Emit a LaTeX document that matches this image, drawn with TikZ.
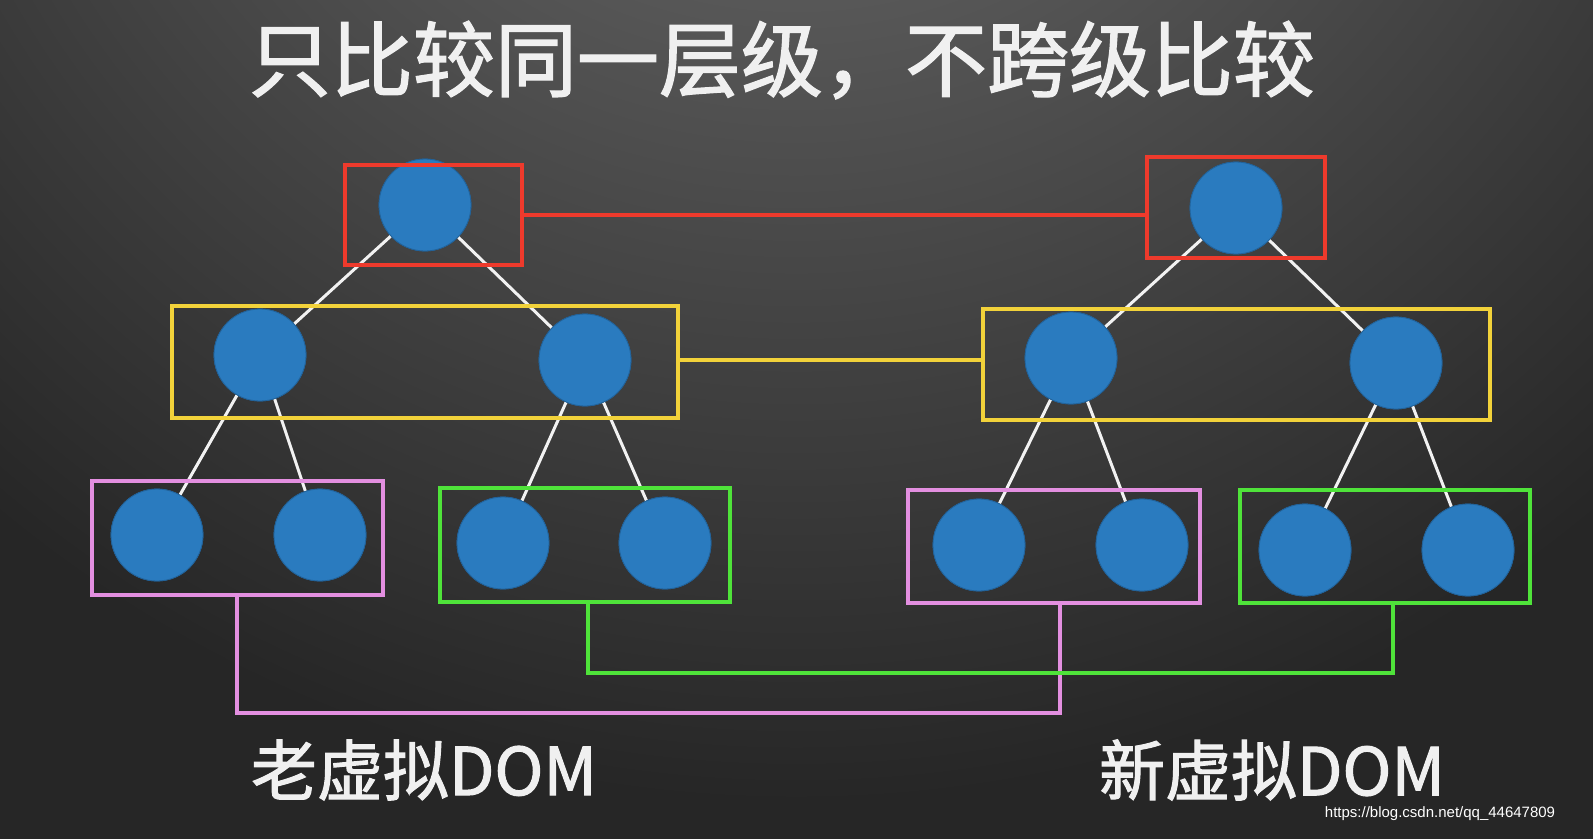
\documentclass[tikz,border=0pt]{standalone}
\usepackage{fontspec}
\newfontfamily\cjk{Noto Sans CJK SC}[FakeBold=1.6]
\begin{document}
\begin{tikzpicture}[x=1pt,y=-1pt,
  nd/.style={circle,fill=ndblue,draw=ndblue!80!black,line width=0.8pt,minimum size=92pt,inner sep=0pt},
  frame/.style={line width=4.5pt},
  edge/.style={draw=white!90!gray,line width=3pt},
  link/.style={line width=3.5pt},
  lbl/.style={text=white!88!gray,font=\cjk}]
\definecolor{ndblue}{HTML}{2A7BBF}
\definecolor{cred}{HTML}{EE3A2C}
\definecolor{cyel}{HTML}{F2D23A}
\definecolor{cpink}{HTML}{E38FE0}
\definecolor{cgreen}{HTML}{4FE33A}
\useasboundingbox (0,0) rectangle (1593,839);
\fill[black!85] (0,0) rectangle (1593,839);
\shade[inner color=black!55,outer color=black!85] (796,-450) circle (1250);
% title
\node[lbl,font=\cjk\fontsize{82}{86}\selectfont] (title) at (782,60) {只比较同一层级，不跨级比较};
% old tree
\node[nd] (o1) at (425,205) {};
\node[nd] (o2) at (260,355) {};
\node[nd] (o3) at (585,360) {};
\node[nd] (o4) at (157,535) {};
\node[nd] (o5) at (320,535) {};
\node[nd] (o6) at (503,543) {};
\node[nd] (o7) at (665,543) {};
% new tree
\node[nd] (n1) at (1236,208) {};
\node[nd] (n2) at (1071,358) {};
\node[nd] (n3) at (1396,363) {};
\node[nd] (n4) at (979,545) {};
\node[nd] (n5) at (1142,545) {};
\node[nd] (n6) at (1305,550) {};
\node[nd] (n7) at (1468,550) {};
% edges
\foreach \a/\b in {o1/o2,o1/o3,o2/o4,o2/o5,o3/o6,o3/o7,n1/n2,n1/n3,n2/n4,n2/n5,n3/n6,n3/n7}
  \draw[edge] (\a) -- (\b);
\foreach \n in {o1,o2,o3,o4,o5,o6,o7,n1,n2,n3,n4,n5,n6,n7}
  \node[nd] at (\n) {};
% frames
\draw[frame,cred] (345,165) rectangle (522,265);
\draw[frame,cred] (1147,157) rectangle (1325,258);
\draw[frame,cyel] (172,306) rectangle (678,418);
\draw[frame,cyel] (983,309) rectangle (1490,420);
\draw[frame,cpink] (92,481) rectangle (383,595);
\draw[frame,cpink] (908,490) rectangle (1200,603);
\draw[frame,cgreen] (440,488) rectangle (730,602);
\draw[frame,cgreen] (1240,490) rectangle (1530,603);
% links
\coordinate (r1) at (522,215); \coordinate (r2) at (1147,215);
\draw[link,cred] (r1) -- (r2);
\coordinate (y1) at (678,360); \coordinate (y2) at (983,360);
\draw[link,cyel] (y1) -- (y2);
\coordinate (p1) at (237,595); \coordinate (p2) at (1060,603);
\draw[link,cpink] (p1) -- (237,713) -- (1060,713) -- (p2);
\coordinate (g1) at (588,602); \coordinate (g2) at (1393,603);
\draw[link,cgreen] (g1) -- (588,673) -- (1393,673) -- (g2);
% labels
\node[lbl,font=\cjk\fontsize{66}{70}\selectfont] (old) at (424,770) {老虚拟DOM};
\node[lbl,font=\cjk\fontsize{66}{70}\selectfont] (new) at (1272,770) {新虚拟DOM};
\node[text=white,font=\fontspec{Liberation Sans}\fontsize{15}{17}\selectfont] (wm) at (1440,814) {https://blog.csdn.net/qq\_44647809};
\end{tikzpicture}
\end{document}
